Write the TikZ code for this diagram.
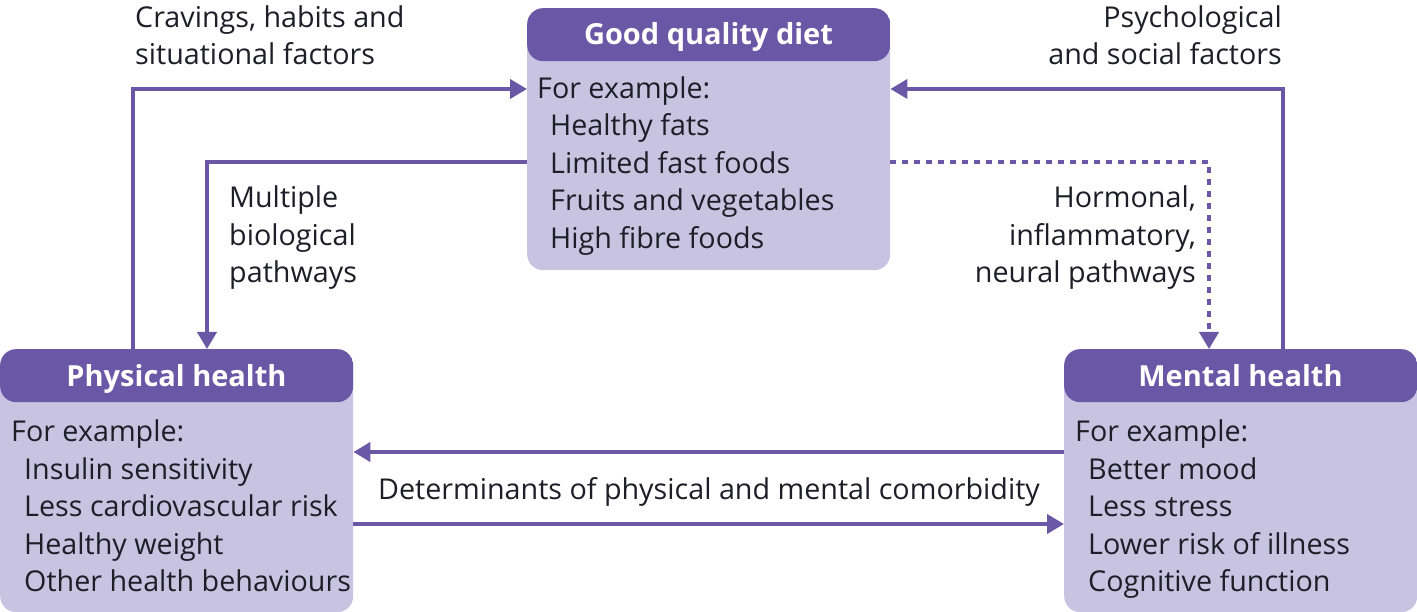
\documentclass[tikz,border=0pt]{standalone}
\usepackage{fontspec}
\setmainfont{Open Sans}
\usetikzlibrary{arrows.meta}
\definecolor{headc}{HTML}{6A58A6}
\definecolor{bodyc}{HTML}{C9C3E2}
\definecolor{txtc}{HTML}{1E1E28}
\begin{document}
\begin{tikzpicture}[x=1pt,y=-1pt,
  box/.style={fill=bodyc, rounded corners=16pt, anchor=north west, inner sep=0pt,
    minimum width=#1, minimum height=262pt,
    path picture={\fill[headc] (path picture bounding box.north west) rectangle ([yshift=-53pt]path picture bounding box.north east);}},
  headtxt/.style={font=\fontsize{29}{37.5}\selectfont\bfseries, text=white, inner sep=0pt, anchor=base},
  itemtxt/.style={font=\fontsize{28.7}{37.5}\selectfont, text=txtc, inner sep=0pt, anchor=base west},
  lbltxt/.style={font=\fontsize{28.7}{37.5}\selectfont, text=txtc, inner sep=0pt},
  conn/.style={draw=headc, line width=4pt, -{Triangle[length=17pt,width=19pt]}},
  dconn/.style={conn, dash pattern=on 6pt off 6pt}
]
\useasboundingbox (0,0) rectangle (1417,612);

% boxes
\node[box=363pt, minimum height=262pt] (diet) at (527,8) {};
\node[box=353pt, minimum height=263pt] (phys) at (0,349) {};
\node[box=353pt, minimum height=263pt] (ment) at (1064,349) {};

% headers
\node[headtxt] (dietH) at (708.5,45) {Good quality diet};
\node[headtxt] (physH) at (176.5,386) {Physical health};
\node[headtxt] (mentH) at (1240.5,386) {Mental health};

% diet items
\node[itemtxt] (d0) at (537,98.5) {For example:};
\node[itemtxt] (d1) at (550,136) {Healthy fats};
\node[itemtxt] (d2) at (550,173.5) {Limited fast foods};
\node[itemtxt] (d3) at (550,211) {Fruits and vegetables};
\node[itemtxt] (d4) at (550,248.5) {High fibre foods};

% physical items
\node[itemtxt] (p0) at (11,441.5) {For example:};
\node[itemtxt] (p1) at (24,479) {Insulin sensitivity};
\node[itemtxt] (p2) at (24,516.5) {Less cardiovascular risk};
\node[itemtxt] (p3) at (24,554) {Healthy weight};
\node[itemtxt] (p4) at (24,591.5) {Other health behaviours};

% mental items
\node[itemtxt] (m0) at (1075,441.5) {For example:};
\node[itemtxt] (m1) at (1088,479) {Better mood};
\node[itemtxt] (m2) at (1088,516.5) {Less stress};
\node[itemtxt] (m3) at (1088,554) {Lower risk of illness};
\node[itemtxt] (m4) at (1088,591.5) {Cognitive function};

% labels
\node[lbltxt, anchor=base west] (cr1) at (135,28) {Cravings, habits and};
\node[lbltxt, anchor=base west] (cr2) at (135,65) {situational factors};
\node[lbltxt, anchor=base east] (ps1) at (1282,28) {Psychological};
\node[lbltxt, anchor=base east] (ps2) at (1282,65) {and social factors};
\node[lbltxt, anchor=base west] (mb1) at (229,208) {Multiple};
\node[lbltxt, anchor=base west] (mb2) at (229,245.5) {biological};
\node[lbltxt, anchor=base west] (mb3) at (229,283) {pathways};
\node[lbltxt, anchor=base east] (hr1) at (1196,208) {Hormonal,};
\node[lbltxt, anchor=base east] (hr2) at (1196,245.5) {inflammatory,};
\node[lbltxt, anchor=base east] (hr3) at (1196,283) {neural pathways};
\node[lbltxt, anchor=base] (det) at (709,499) {Determinants of physical and mental comorbidity};

% connectors
\draw[conn] (phys.north west -| 133,0) |- (diet.west |- 0,89);
\draw[conn] (diet.west |- 0,162) -| (phys.north west -| 207,0);
\draw[conn] (ment.north west -| 1283,0) |- (diet.east |- 0,89);
\draw[dconn] (diet.east |- 0,162) -| (ment.north west -| 1209,0);
\draw[conn] (ment.west |- 0,452) -- (phys.east |- 0,452);
\draw[conn] (phys.east |- 0,524) -- (ment.west |- 0,524);
\end{tikzpicture}
\end{document}
